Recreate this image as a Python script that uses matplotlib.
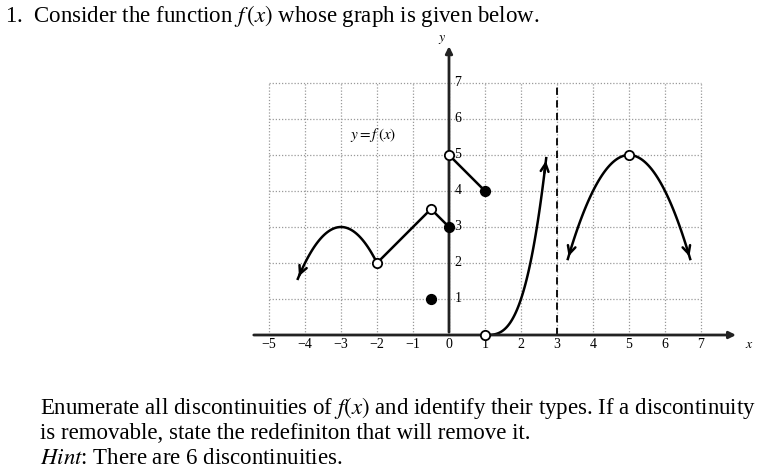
import numpy as np
import matplotlib.pyplot as plt

plt.rcParams['font.family'] = ['Liberation Serif', 'DejaVu Serif']
plt.rcParams['mathtext.fontset'] = 'stix'

# tick values
x_ticks = [-5, -4, -3, -2, -1, 0, 1, 2, 3, 4, 5, 6, 7]
y_ticks = [1, 2, 3, 4, 5, 6, 7]

# special points
open_pts_x = [-2, -0.5, 0, 1, 5]
open_pts_y = [2, 3.5, 5, 0, 5]
filled_pts_x = [-0.5, 0, 1]
filled_pts_y = [1, 3, 4]

# straight pieces
seg1_x = [-2, -0.5, 0]
seg1_y = [2, 3.5, 3]
seg2_x = [0, 1]
seg2_y = [5, 4]

fig = plt.figure(figsize=(7.76, 4.73), dpi=100)
ax = fig.add_axes([0, 0, 1, 1])
ax.set_xlim(-449 / 36, (776 - 449) / 36)
ax.set_ylim(-(473 - 335) / 36, 335 / 36)
ax.axis('off')

# grid
for xv in x_ticks:
    ax.plot([xv, xv], [0, 7], color='#999999', ls=(0, (1, 1.5)), lw=0.9)
for yv in y_ticks:
    ax.plot([-5, 7], [yv, yv], color='#999999', ls=(0, (1, 1.5)), lw=0.9)

# axes
ax.annotate('', xy=(8.05, 0), xytext=(-5.5, 0),
            arrowprops=dict(arrowstyle='-|>', lw=2, color='#222222', mutation_scale=10))
ax.annotate('', xy=(0, 8.1), xytext=(0, 0),
            arrowprops=dict(arrowstyle='-|>', lw=2, color='#222222', mutation_scale=10))
ax.text(8.35, -0.25, r'$x$', fontsize=10, ha='center', va='center')
ax.text(-0.2, 8.2, r'$y$', fontsize=10, ha='center', va='center')
for xv in x_ticks:
    lab = str(xv) if xv >= 0 else '\u2212' + str(-xv)
    ax.text(xv, -0.27, lab, fontsize=10, ha='center', va='center')
for yv in y_ticks:
    ax.text(0.25, yv, str(yv), fontsize=10, ha='center', va='center')

ax.text(-2.1, 5.55, r'$y = f\,(x)$', fontsize=11, ha='center', va='center')

kw = dict(color='black', lw=1.8)
arr = dict(arrowstyle='->', lw=1.8, color='black', mutation_scale=14)

# left parabola
xl = np.linspace(-4.2, -2, 60)
yl = 3 - (xl + 3) ** 2
ax.plot(xl, yl, **kw)
ax.annotate('', xy=(xl[0], yl[0]), xytext=(xl[2], yl[2]), arrowprops=arr)

ax.plot(seg1_x, seg1_y, **kw)
ax.plot(seg2_x, seg2_y, **kw)

# cubic
xc = np.linspace(1, 2.7, 60)
yc = (xc - 1) ** 3
ax.plot(xc, yc, **kw)
ax.annotate('', xy=(xc[-1], yc[-1]), xytext=(xc[-3], yc[-3]), arrowprops=arr)

# asymptote
ax.plot([3, 3], [0, 7], color='black', ls=(0, (4, 3)), lw=1.3)

# right parabola
xr = np.linspace(3.3, 6.7, 80)
yr = 5 - (xr - 5) ** 2
ax.plot(xr, yr, **kw)
ax.annotate('', xy=(xr[0], yr[0]), xytext=(xr[2], yr[2]), arrowprops=arr)
ax.annotate('', xy=(xr[-1], yr[-1]), xytext=(xr[-3], yr[-3]), arrowprops=arr)

ax.scatter(open_pts_x, open_pts_y, s=45, facecolor='white', edgecolor='black', lw=1.3, zorder=5)
ax.scatter(filled_pts_x, filled_pts_y, s=50, color='black', zorder=5)

# text
fs = 16.5
fig.text(5 / 776, 1 - 16 / 473, '1.  Consider the function $f\\,(x)$ whose graph is given below.',
         fontsize=fs, va='center', ha='left')
fig.text(40 / 776, 1 - 408 / 473,
         'Enumerate all discontinuities of $f(x)$ and identify their types. If a discontinuity',
         fontsize=fs, va='center', ha='left')
fig.text(40 / 776, 1 - 433 / 473,
         'is removable, state the redefiniton that will remove it.',
         fontsize=fs, va='center', ha='left')
fig.text(40 / 776, 1 - 458 / 473, '$\\mathit{Hint}$: There are 6 discontinuities.',
         fontsize=fs, va='center', ha='left')

fig.savefig('out.png', dpi=100)
